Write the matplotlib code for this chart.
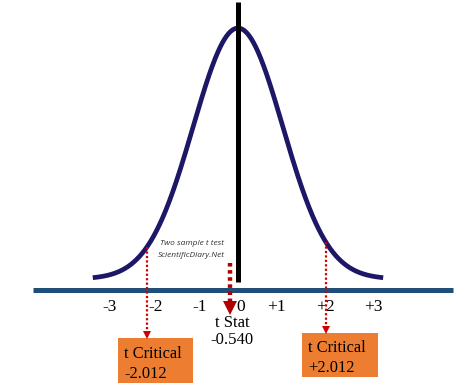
"""
Curva t de dos colas con valores críticos y estadístico t.
Salida: out.png (474x387)
"""
import numpy as np
import matplotlib.pyplot as plt
from matplotlib.patches import Rectangle

# ── DATOS ──────────────────────────────────────────────────────────────────────
tick_labels = ['-3', '-2', '-1', '0', '+1', '+2', '+3']
tick_pos    = [-2.92, -1.88, -0.88, 0.07, 0.88, 1.98, 3.07]   # posición leída
t_stat      = -0.540
t_stat_pos  = -0.18                                           # posición leída
t_crit      = 2.012
crit_pos    = [-2.07, 2.00]                                   # posición leída
crit_labels = ['t Critical\n-2.012', 't Critical\n+2.012']
marca       = ['Two sample t test', 'ScientificDiary.Net']
SIGMA       = 1.02                                            # ancho de la curva dibujada

# ── ESTILO ─────────────────────────────────────────────────────────────────────
AZUL_CURVA = '#1c1766'
AZUL_EJE   = '#1f4e79'
ROJO       = '#d00000'
ROJO_OSC   = '#b00000'
NARANJA    = '#ed7d31'
SERIF      = 'Liberation Serif'


def curva(x):
    # campana con altura máxima fija (0.3989)
    return np.exp(-(np.asarray(x) / SIGMA) ** 2 / 2) / np.sqrt(2 * np.pi)


fig = plt.figure(figsize=(4.74, 3.87), dpi=100)
ax = fig.add_axes([0, 0, 1, 1])
ax.set_xlim(-5.409, 5.364)
ax.set_ylim(-0.1717, 0.4436)
ax.axis('off')

# curva normal
t = np.linspace(-3.3, 3.3, 400)
ax.plot(t, curva(t), color=AZUL_CURVA, lw=3.4, solid_capstyle='butt', zorder=3)

# línea vertical en 0
ax.plot([0, 0], [-0.005, 0.440], color='black', lw=3.6, solid_capstyle='butt', zorder=4)

# eje horizontal
ax.plot([-4.66, 4.89], [-0.0175, -0.0175], color=AZUL_EJE, lw=3.6,
        solid_capstyle='butt', zorder=2)

for lab, x in zip(tick_labels, tick_pos):
    ax.text(x, -0.0445, lab, ha='center', va='center', family=SERIF,
            fontsize=12.5, color='black')

# flechas de los valores críticos
puntas = [-0.0938, -0.0843]
for x, tip in zip(crit_pos, puntas):
    ax.plot([x, x], [curva(x), tip + 0.006], color=ROJO, lw=1.6,
            linestyle=(0, (1, 1)), zorder=5)
    ax.plot([x], [tip + 0.004], marker='v', color=ROJO, markersize=5.5,
            markeredgewidth=0, zorder=5)

# flecha del estadístico t
ax.plot([t_stat_pos, t_stat_pos], [0.0254, -0.040], color=ROJO_OSC, lw=3.2,
        linestyle=(0, (0.8, 0.8)), zorder=5)
ax.plot([t_stat_pos], [-0.046], marker='v', color=ROJO_OSC, markersize=10,
        markeredgewidth=0, zorder=5)
ax.text(t_stat_pos + 0.05, -0.070, 't Stat', ha='center', va='center',
        family=SERIF, fontsize=12)
ax.text(t_stat_pos + 0.05, -0.097, f'{t_stat:.3f}', ha='center', va='center',
        family=SERIF, fontsize=12)

# cajas naranjas
cajas = [(-2.727, -0.1653, 1.704, 0.0715), (1.455, -0.1558, 1.727, 0.070)]
for (x, y, w, h), lab in zip(cajas, crit_labels):
    ax.add_patch(Rectangle((x, y), w, h, facecolor=NARANJA, edgecolor='none', zorder=4))
    ax.text(x + 0.14, y + h / 2 - 0.005, lab, ha='left', va='center', family=SERIF,
            fontsize=11.8, linespacing=1.35, zorder=6)

# marca de agua
ax.text(-1.05, 0.056, marca[0], ha='center', va='center', style='italic',
        family='Open Sans', fontsize=6, color='#333333')
ax.text(-1.05, 0.038, marca[1], ha='center', va='center', style='italic',
        family='Open Sans', fontsize=6, color='#333333')

fig.savefig('out.png', dpi=100)
